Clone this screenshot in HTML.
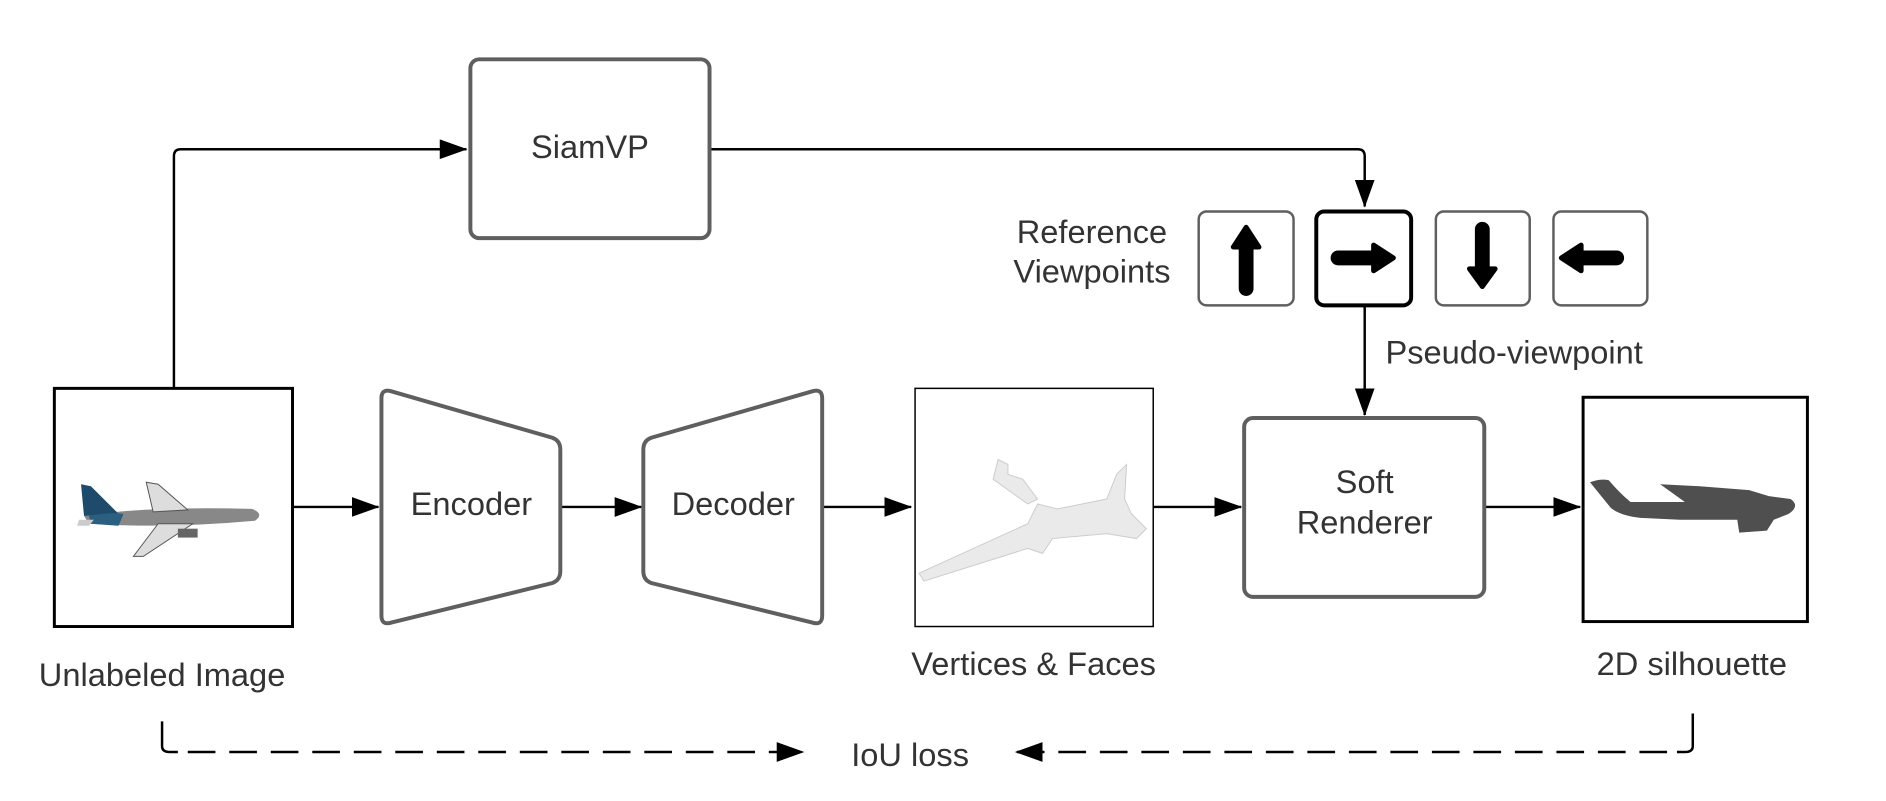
<!DOCTYPE html>
<html><head><meta charset="utf-8"><style>
html,body{margin:0;padding:0;background:#fff;}
svg text{font-family:"Liberation Sans",sans-serif;fill:#333;}
</style></head><body>
<svg width="1886" height="796" viewBox="0 0 1886 796" xmlns="http://www.w3.org/2000/svg">
<defs>
<marker id="ah2" markerWidth="28" markerHeight="20" refX="27" refY="10" orient="auto" markerUnits="userSpaceOnUse" viewBox="0 0 28 20">
<path d="M0,0 L28,10 L0,20 z" fill="#000"/></marker>
</defs>
<g transform="scale(0.9882)">
<g fill="none" stroke="#000" stroke-width="2.5">
<path d="M176,393 V158 Q176,151 183,151 H472" marker-end="url(#ah2)"/>
<path d="M718,151 H1374 Q1381,151 1381,158 V209" marker-end="url(#ah2)"/>
<path d="M1381,309 V420" marker-end="url(#ah2)"/>
<path d="M296,513 H383" marker-end="url(#ah2)"/>
<path d="M567,513 H649" marker-end="url(#ah2)"/>
<path d="M832,513 H922" marker-end="url(#ah2)"/>
<path d="M1167,513 H1256" marker-end="url(#ah2)"/>
<path d="M1502,513 H1599" marker-end="url(#ah2)"/>
<path d="M164,730 V755 Q164,761 172,761 H180"/>
<path d="M190,761 H813" stroke-dasharray="28,14" marker-end="url(#ah2)"/>
<path d="M1713,722 V755 Q1713,761 1705,761 H1697"/>
<path d="M1687,761 H1028" stroke-dasharray="28,14" marker-end="url(#ah2)"/>
</g>
<g fill="#fff" stroke="#5f5f5f" stroke-width="4">
<rect x="476" y="60" width="242" height="181" rx="9"/>
<rect x="1259" y="423" width="243" height="181" rx="9"/>
<path d="M386,403 Q386,393 396,396 L559,443 Q567,446 567,455 V578 Q567,587 559,590 L396,630 Q386,633 386,623 Z"/>
<path d="M832,403 Q832,393 822,396 L659,443 Q651,446 651,455 V578 Q651,587 659,590 L822,630 Q832,633 832,623 Z"/>
<rect x="1213" y="214" width="96" height="95" rx="8" stroke-width="2.5"/>
<rect x="1453" y="214" width="95" height="95" rx="8" stroke-width="2.5"/>
<rect x="1572" y="214" width="95" height="95" rx="8" stroke-width="2.5"/>
</g>
<rect x="1332" y="214" width="96" height="95" rx="8" fill="#fff" stroke="#000" stroke-width="4"/>
<rect x="55" y="393" width="241" height="241" fill="#fff" stroke="#000" stroke-width="3"/>
<rect x="926" y="393" width="241" height="241" fill="#fff" stroke="#000" stroke-width="1.5"/>
<rect x="1602" y="402" width="227" height="227" fill="#fff" stroke="#000" stroke-width="3"/>
<g stroke="#000" stroke-width="15" stroke-linecap="round" fill="#000">
<line x1="1261" y1="292" x2="1261" y2="245"/><path d="M1248,250 L1261,230 L1274,250 Z" stroke-width="5" stroke-linejoin="round"/>
<line x1="1354" y1="261" x2="1392" y2="261"/><path d="M1390,248 L1410,261 L1390,274 Z" stroke-width="5" stroke-linejoin="round"/>
<line x1="1500" y1="232" x2="1500" y2="272"/><path d="M1487,272 L1500,290 L1513,272 Z" stroke-width="5" stroke-linejoin="round"/>
<line x1="1636" y1="261" x2="1598" y2="261"/><path d="M1600,248 L1580,261 L1600,274 Z" stroke-width="5" stroke-linejoin="round"/>
</g>
<g>
<path d="M85,522 Q150,512 255,515 Q268,520 258,527 Q170,535 90,530 Z" fill="#888"/>
<path d="M85,522 L82,490 L92,492 L120,520 Z" fill="#1e4a6b"/>
<path d="M90,522 Q110,518 125,520 L120,532 L92,530 Z" fill="#2a5f80"/>
<path d="M155,518 L148,488 L160,490 L190,516 Z" fill="#ddd" stroke="#555" stroke-width="1"/>
<path d="M160,530 L135,563 L145,563 L195,530 Z" fill="#ddd" stroke="#555" stroke-width="1"/>
<path d="M80,526 L95,526 L90,532 L78,532 Z" fill="#ccc"/>
<rect x="180" y="535" width="20" height="9" fill="#666"/>
</g>
<g fill="#eaeaea" stroke="#ccc" stroke-width="1">
<path d="M930,580 L1040,530 L1050,510 L1070,515 L1120,505 L1130,480 L1140,470 L1138,505 L1145,520 L1160,535 L1150,545 L1120,540 L1065,545 L1055,560 L1040,555 L935,588 Z"/>
<path d="M1005,485 L1010,465 L1020,470 L1020,480 L1035,485 L1050,505 L1040,510 Z"/>
</g>
<path d="M1609,488 Q1620,484 1628,486 Q1640,500 1650,508 L1705,508 L1680,490 L1720,492 L1770,496 L1790,502 L1812,505 Q1822,512 1810,520 L1795,526 L1788,537 L1760,539 L1758,526 L1700,526 L1660,524 Q1640,522 1630,514 Z" fill="#4f4f4f"/>
<g font-size="33" text-anchor="middle">
<text x="597" y="160">SiamVP</text>
<text x="477" y="521">Encoder</text>
<text x="742" y="521">Decoder</text>
<text x="1381" y="499">Soft</text>
<text x="1381" y="540">Renderer</text>
<text x="1105" y="246">Reference</text>
<text x="1105" y="286">Viewpoints</text>
<text x="164" y="694">Unlabeled Image</text>
<text x="1046" y="683">Vertices &amp; Faces</text>
<text x="1712" y="683">2D silhouette</text>
<text x="921" y="775">IoU loss</text>
<text x="1402" y="368" text-anchor="start">Pseudo-viewpoint</text>
</g>
</g>
</svg>
</body></html>
